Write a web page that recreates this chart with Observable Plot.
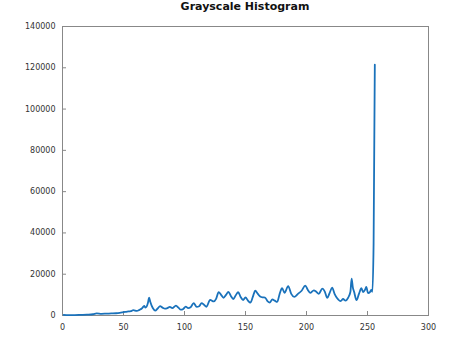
<!DOCTYPE html>
<html>
<head>
<meta charset="utf-8">
<script src="https://cdn.jsdelivr.net/npm/d3@7"></script>
<script src="https://cdn.jsdelivr.net/npm/@observablehq/plot@0.6"></script>
<style>
  html, body { margin: 0; padding: 0; background: #fff; }
  #title { width: 474px; height: 16px; line-height: 16px; text-align: left; padding-left: 0;
           font: bold 11px "DejaVu Sans", sans-serif; color: #111; position: relative; }
  #title span { position: absolute; left: 245px; transform: translateX(-50%); white-space: nowrap; }
</style>
</head>
<body>
<div id="title"><span>Grayscale Histogram</span></div>
<div id="chart"></div>
<script>
const titleText = "Grayscale Histogram";
const grayLevels = [1,5,10,15,20,25,28,32,36,40,44,47,50,53,56,58,61,63,65,67,68,70,71,72,74,76,78,80,82,84,86,88,90,93,95,97,99,101,103,105,107.5,110,112,114,116,118,121,124,126,128,130,132,134,136,138,140,142,144,146,148,150,152,154,156,158,160,162,164,166,168,170,172,174,176,178,180,182,185,187.5,190,193,196,199,201,203,206,208,210,213,215,217,219,221,223,225,228,230,232,234,236,237,238,239,241,243,245,246.5,248,249,250.5,252,253,254,255,256];
const pixelCounts = [300,200,200,300,400,600,1000,800,900,1000,1100,1300,1600,1900,2100,2600,2200,2700,3400,4600,3800,6000,8600,6500,3600,2400,3400,4500,3800,3300,3600,4200,3600,4800,3800,2800,3200,4300,3600,4000,6000,4200,4500,6000,5200,4200,7600,6800,8200,11300,10000,8600,10000,11400,9500,8000,9800,11300,9000,7500,8800,7200,6200,9000,12000,10600,9200,8800,8700,7000,6300,7800,7200,6600,10500,13200,11000,14200,10500,9000,10500,12000,14500,12500,11000,12200,11500,10500,13000,11600,8500,11000,13500,10500,8500,7000,8000,7200,8500,11500,17800,13500,11500,7400,10500,13200,11300,12500,13800,10800,11300,12400,11500,35000,121500];
const xTicks = [0,50,100,150,200,250,300];
const yTicks = [0,20000,40000,60000,80000,100000,120000,140000];

const data = grayLevels.map((g, i) => ({g, c: pixelCounts[i]}));

const chart = Plot.plot({
  width: 474,
  height: 339,
  marginLeft: 62,
  marginRight: 46,
  marginTop: 10,
  marginBottom: 40,
  style: {fontFamily: "DejaVu Sans, sans-serif", fontSize: "8px", color: "#333", background: "#fff"},
  x: {domain: [0, 300]},
  y: {domain: [0, 140000]},
  marks: [
    Plot.frame({stroke: "#888", strokeWidth: 1}),
    Plot.axisX({ticks: xTicks, tickSize: -4, tickPadding: 13, tickFormat: d => String(d), stroke: "#888", label: null, fill: "#333"}),
    Plot.axisY({ticks: yTicks, tickSize: -4, tickPadding: 11, tickFormat: d => String(d), stroke: "#888", label: null, fill: "#333"}),
    Plot.line(data, {x: "g", y: "c", stroke: "#1a72bb", strokeWidth: 1.8, curve: "monotone-x"})
  ]
});
document.getElementById("chart").appendChild(chart);
</script>
</body>
</html>
